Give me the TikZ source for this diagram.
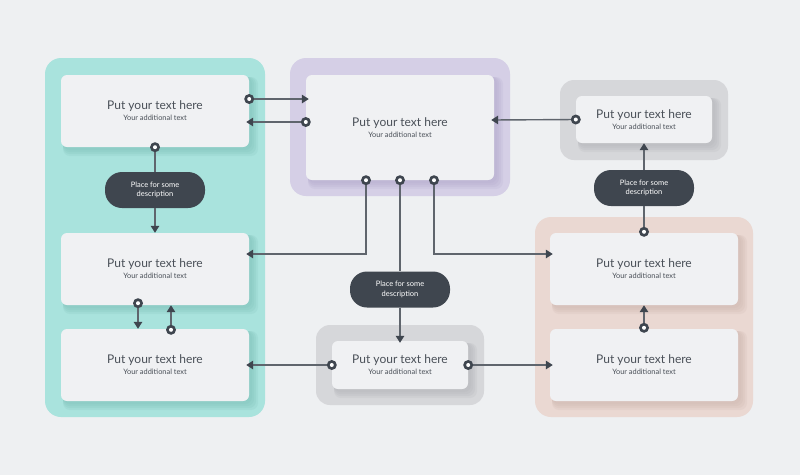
\documentclass[tikz,border=0pt]{standalone}
\usepackage{fontspec}
\setmainfont{Lato}
\usetikzlibrary{arrows.meta,calc}
\definecolor{bg}{HTML}{EEF0F2}
\definecolor{teal}{HTML}{A9E3DD}
\definecolor{tealsh}{HTML}{8CCBC4}
\definecolor{purp}{HTML}{D5CFE6}
\definecolor{purpsh}{HTML}{BDB5D4}
\definecolor{grayc}{HTML}{D6D7DA}
\definecolor{graysh}{HTML}{BDBEC2}
\definecolor{pink}{HTML}{EAD8D2}
\definecolor{pinksh}{HTML}{D6C0B9}
\definecolor{inner}{HTML}{F0F1F3}
\definecolor{dark}{HTML}{3F464F}
\definecolor{linec}{HTML}{5F656D}
\definecolor{txt}{HTML}{4A5058}
\tikzset{
  box/.style={fill=inner, rounded corners=6pt, inner sep=0pt, align=center, text=txt},
  pill/.style={fill=dark, rounded corners=17pt, inner sep=0pt, minimum width=100pt, minimum height=36pt, align=center, text=white, font=\fontsize{7.5}{9.5}\selectfont},
  conn/.style={draw=linec, line width=1.4pt, -{Triangle[length=7pt,width=8.5pt,fill=dark,color=dark]}},
  plain/.style={draw=linec, line width=1.4pt},
  dotn/.style={circle, fill=dark, minimum size=10pt, inner sep=0pt, path picture={\fill[white] (path picture bounding box.center) circle (2pt);}},
}
\newcommand{\boxtext}{{\fontsize{12}{13.5}\selectfont Put your text here}\\[-1pt]{\fontsize{7.4}{9}\selectfont Your additional text}}
% soft shadow: colour, x1,y1,x2,y2 of the box
\newcommand{\softsh}[5]{%
  \foreach \k/\o in {9/0.25,7/0.35,5/0.45,3/0.6}{%
    \fill[#1, opacity=\o, rounded corners=7pt] (#2+2,#3+2) rectangle (#4+\k,#5+\k);}}
\begin{document}
\begin{tikzpicture}[x=1pt,y=-1pt]
\useasboundingbox (0,0) rectangle (800,475);
\fill[bg] (0,0) rectangle (800,475);
% containers
\fill[teal, rounded corners=16pt] (45,58) rectangle (265,417);
\fill[purp, rounded corners=16pt] (290,58) rectangle (510,196);
\fill[grayc, rounded corners=14pt] (560,80) rectangle (728,160);
\fill[pink, rounded corners=16pt] (535,217) rectangle (753,417);
\fill[grayc, rounded corners=14pt] (316,325) rectangle (484,405);
% shadows
\softsh{tealsh}{61}{75}{249}{147}
\softsh{tealsh}{61}{233}{249}{305}
\softsh{tealsh}{61}{329}{249}{401}
\softsh{purpsh}{306}{75}{494}{180}
\softsh{graysh}{576}{96}{712}{143}
\softsh{graysh}{332}{341}{468}{389}
\softsh{pinksh}{550}{233}{738}{305}
\softsh{pinksh}{550}{329}{738}{401}
% boxes
\node[box, minimum width=188pt, minimum height=72pt] (t1) at (155,111) {\boxtext};
\node[box, minimum width=188pt, minimum height=72pt] (t2) at (155,269) {\boxtext};
\node[box, minimum width=188pt, minimum height=72pt] (t3) at (155,365) {\boxtext};
\node[box, minimum width=188pt, minimum height=105pt] (p) at (400,127.5) {\boxtext};
\node[box, minimum width=136pt, minimum height=47pt] (g1) at (644,119.5) {\boxtext};
\node[box, minimum width=136pt, minimum height=48pt] (g2) at (400,365) {\boxtext};
\node[box, minimum width=188pt, minimum height=72pt] (r1) at (644,269) {\boxtext};
\node[box, minimum width=188pt, minimum height=72pt] (r2) at (644,365) {\boxtext};
% pills
\node[pill] (pl) at (155,190) {Place for some\\description};
\node[pill] (pm) at (400,289.5) {Place for some\\description};
\node[pill] (pr) at (644,188) {Place for some\\description};
% connectors
\draw[conn] ([yshift=12pt]t1.east) -- ([xshift=3pt,yshift=28.5pt]p.west);
\node[dotn] (d1) at ([yshift=12pt]t1.east) {};
\draw[conn] ([yshift=5.5pt]p.west) -- ([xshift=-3pt,yshift=-11pt]t1.east);
\node[dotn] (d2) at ([yshift=5.5pt]p.west) {};
\draw[conn] (g1.west) -- ([xshift=-3pt,yshift=7.5pt]p.east);
\node[dotn] (d3) at (g1.west) {};
\draw[plain] (t1.south) -- (pl.north);
\draw[conn] (pl.south) -- (t2.north);
\node[dotn] (d4) at (t1.south) {};
% from purple bottom
\draw[conn] ([xshift=-34pt]p.south) |- ([xshift=-3pt,yshift=15pt]t2.east);
\node[dotn] (d5) at ([xshift=-34pt]p.south) {};
\draw[plain] (p.south) -- (pm.north);
\draw[conn] (pm.south) -- ([yshift=-2pt]g2.north);
\node[dotn] (d6) at (p.south) {};
\draw[conn] ([xshift=34pt]p.south) |- ([xshift=3pt,yshift=15pt]r1.west);
\node[dotn] (d7) at ([xshift=34pt]p.south) {};
% t2 <-> t3
\draw[conn] ([xshift=-17pt,yshift=2pt]t2.south) -- ([xshift=-17pt]t3.north);
\node[dotn] (d8) at ([xshift=-17pt,yshift=2pt]t2.south) {};
\draw[conn] ([xshift=16pt,yshift=-1pt]t3.north) -- ([xshift=16pt]t2.south);
\node[dotn] (d9) at ([xshift=16pt,yshift=-1pt]t3.north) {};
% g2 sides
\draw[conn] (g2.west) -- ([xshift=-3pt]t3.east);
\node[dotn] (d10) at (g2.west) {};
\draw[conn] (g2.east) -- ([xshift=3pt]r2.west);
\node[dotn] (d11) at (g2.east) {};
% right chain
\draw[plain] ([yshift=1pt]r1.north) -- (pr.south);
\draw[conn] (pr.north) -- (g1.south);
\node[dotn] (d12) at ([yshift=1pt]r1.north) {};
\draw[conn] ([yshift=1pt]r2.north) -- (r1.south);
\node[dotn] (d13) at ([yshift=1pt]r2.north) {};
\end{tikzpicture}
\end{document}
